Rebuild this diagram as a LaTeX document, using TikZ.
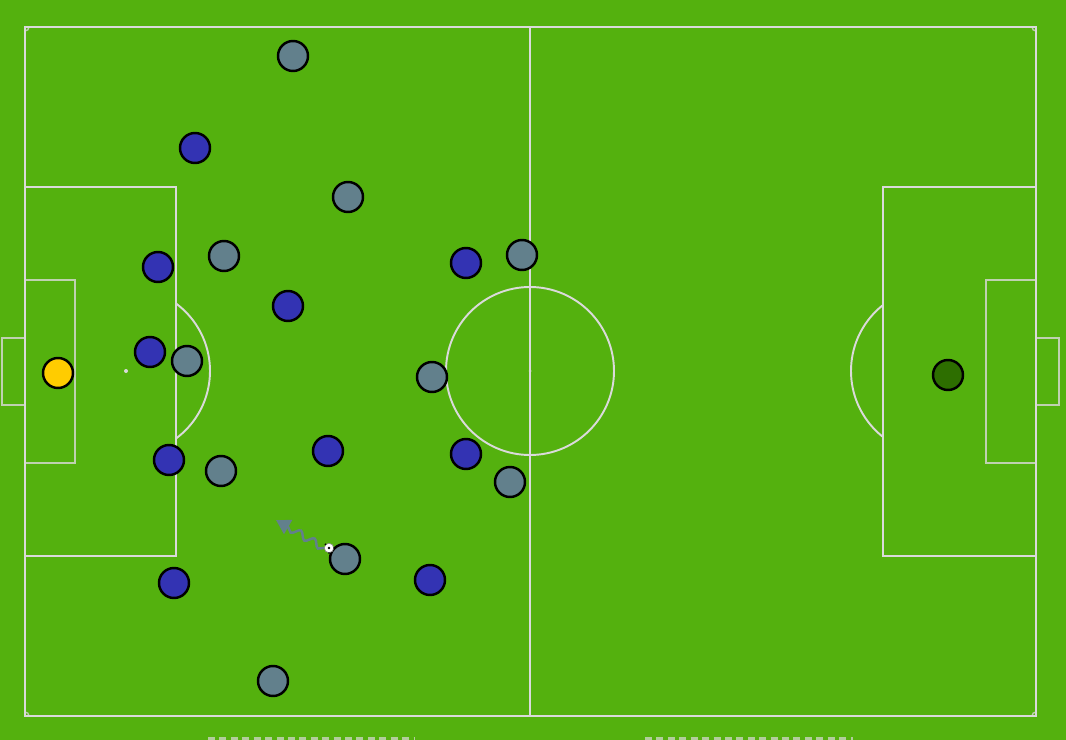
\documentclass[tikz,border=0pt]{standalone}
\usetikzlibrary{arrows.meta}
\usetikzlibrary{calc}
\usetikzlibrary{decorations.pathmorphing}
\definecolor{pitchgreen}{RGB}{84,177,14}
\definecolor{chalk}{RGB}{218,218,218}
\definecolor{homeblue}{RGB}{51,51,179}
\definecolor{awaygrey}{RGB}{98,128,140}
\definecolor{keeperyellow}{RGB}{255,204,0}
\definecolor{keepergreen}{RGB}{45,110,0}
\tikzset{
    chalkline/.style={draw=chalk, line width=1.1pt},
    thinline/.style={draw=chalk, draw opacity=0.8, line width=0.8pt},
    player/.style={circle, draw=black, line width=1.4pt, minimum size=0.6cm, inner sep=0pt},
    blueplayer/.style={player, fill=homeblue},
    greyplayer/.style={player, fill=awaygrey},
}
\begin{document}
\begin{tikzpicture}[x=0.02cm, y=-0.02cm]
        % the grass
        \fill[pitchgreen] (0,0) rectangle (1066,740);
        \useasboundingbox (0,0) rectangle (1066,740);

        % outer lines and halfway line
        \draw[chalkline] (25,27) rectangle (1036,716);
        \draw[chalkline] (530,27) -- (530,716);
        \draw[chalkline] (530,371) circle (84);
        \fill[chalk] (530,371) circle (1.5);

        % corner arcs
        \draw[thinline] (29,27) arc (0:90:4);
        \draw[thinline] (1032,27) arc (180:90:4);
        \draw[thinline] (29,716) arc (0:-90:4);
        \draw[thinline] (1032,716) arc (180:270:4);

        % left end
        \draw[chalkline] (25,187) rectangle (176,556);
        \draw[thinline] (25,280) rectangle (75,463);
        \draw[thinline] (25,338) rectangle (2,405);
        \fill[chalk] (126,371) circle (2);
        \begin{scope}
            \clip (176,0) rectangle (300,740);
            \draw[chalkline] (126,371) circle (84);
        \end{scope}

        % right end
        \draw[chalkline] (1036,187) rectangle (883,556);
        \draw[thinline] (1036,280) rectangle (986,463);
        \draw[thinline] (1036,338) rectangle (1059,405);
        \fill[chalk] (935,371) circle (2);
        \begin{scope}
            \clip (760,0) rectangle (883,740);
            \draw[chalkline] (935,371) circle (84);
        \end{scope}

        % marks below the touchline
        \draw[chalk, draw opacity=0.7, line width=2.2pt, dash pattern=on 4pt off 2.5pt] (208,739) -- (415,739);
        \draw[chalk, draw opacity=0.7, line width=2.2pt, dash pattern=on 4pt off 2.5pt] (645,739) -- (853,739);

        % keepers
        \node[player, fill=keeperyellow] (keeperL) at (58,373) {};
        \node[player, fill=keepergreen] (keeperR) at (948,375) {};

        % blue team
        \node[blueplayer] (b1) at (195,148) {};
        \node[blueplayer] (b2) at (158,267) {};
        \node[blueplayer] (b3) at (466,263) {};
        \node[blueplayer] (b4) at (288,306) {};
        \node[blueplayer] (b5) at (150,352) {};
        \node[blueplayer] (b6) at (169,460) {};
        \node[blueplayer] (b7) at (328,451) {};
        \node[blueplayer] (b8) at (466,454) {};
        \node[blueplayer] (b9) at (174,583) {};
        \node[blueplayer] (b10) at (430,580) {};

        % grey team
        \node[greyplayer] (g1) at (293,56) {};
        \node[greyplayer] (g2) at (348,197) {};
        \node[greyplayer] (g3) at (224,256) {};
        \node[greyplayer] (g4) at (522,255) {};
        \node[greyplayer] (g5) at (187,361) {};
        \node[greyplayer] (g6) at (432,377) {};
        \node[greyplayer] (g7) at (221,471) {};
        \node[greyplayer] (g8) at (510,482) {};
        \node[greyplayer] (g9) at (345,559) {};
        \node[greyplayer] (g10) at (273,681) {};

        % ball and its run
        \node[circle, fill=white, draw=black!50, line width=0.3pt, minimum size=0.19cm, inner sep=0pt] (ball) at (329,548) {};
        \fill[black] (ball.center) circle (1.4);
        \fill[black] (ball.north west) circle (1);
        \fill[black] (ball.east) circle (1);
        \fill[black] (ball.south) circle (0.8);
        \coordinate (runend) at (276,520);
        \coordinate (runbend) at ($(ball.west)!0.82!(runend)$);
        \draw[awaygrey, line width=1.4pt, decorate, decoration={snake, amplitude=2pt, segment length=9pt}]
              (ball.west) -- (runbend);
        \draw[awaygrey, line width=1.4pt, -{Triangle[length=8pt, width=9pt]}] (runbend) -- (runend);
    \end{tikzpicture}
\end{document}
